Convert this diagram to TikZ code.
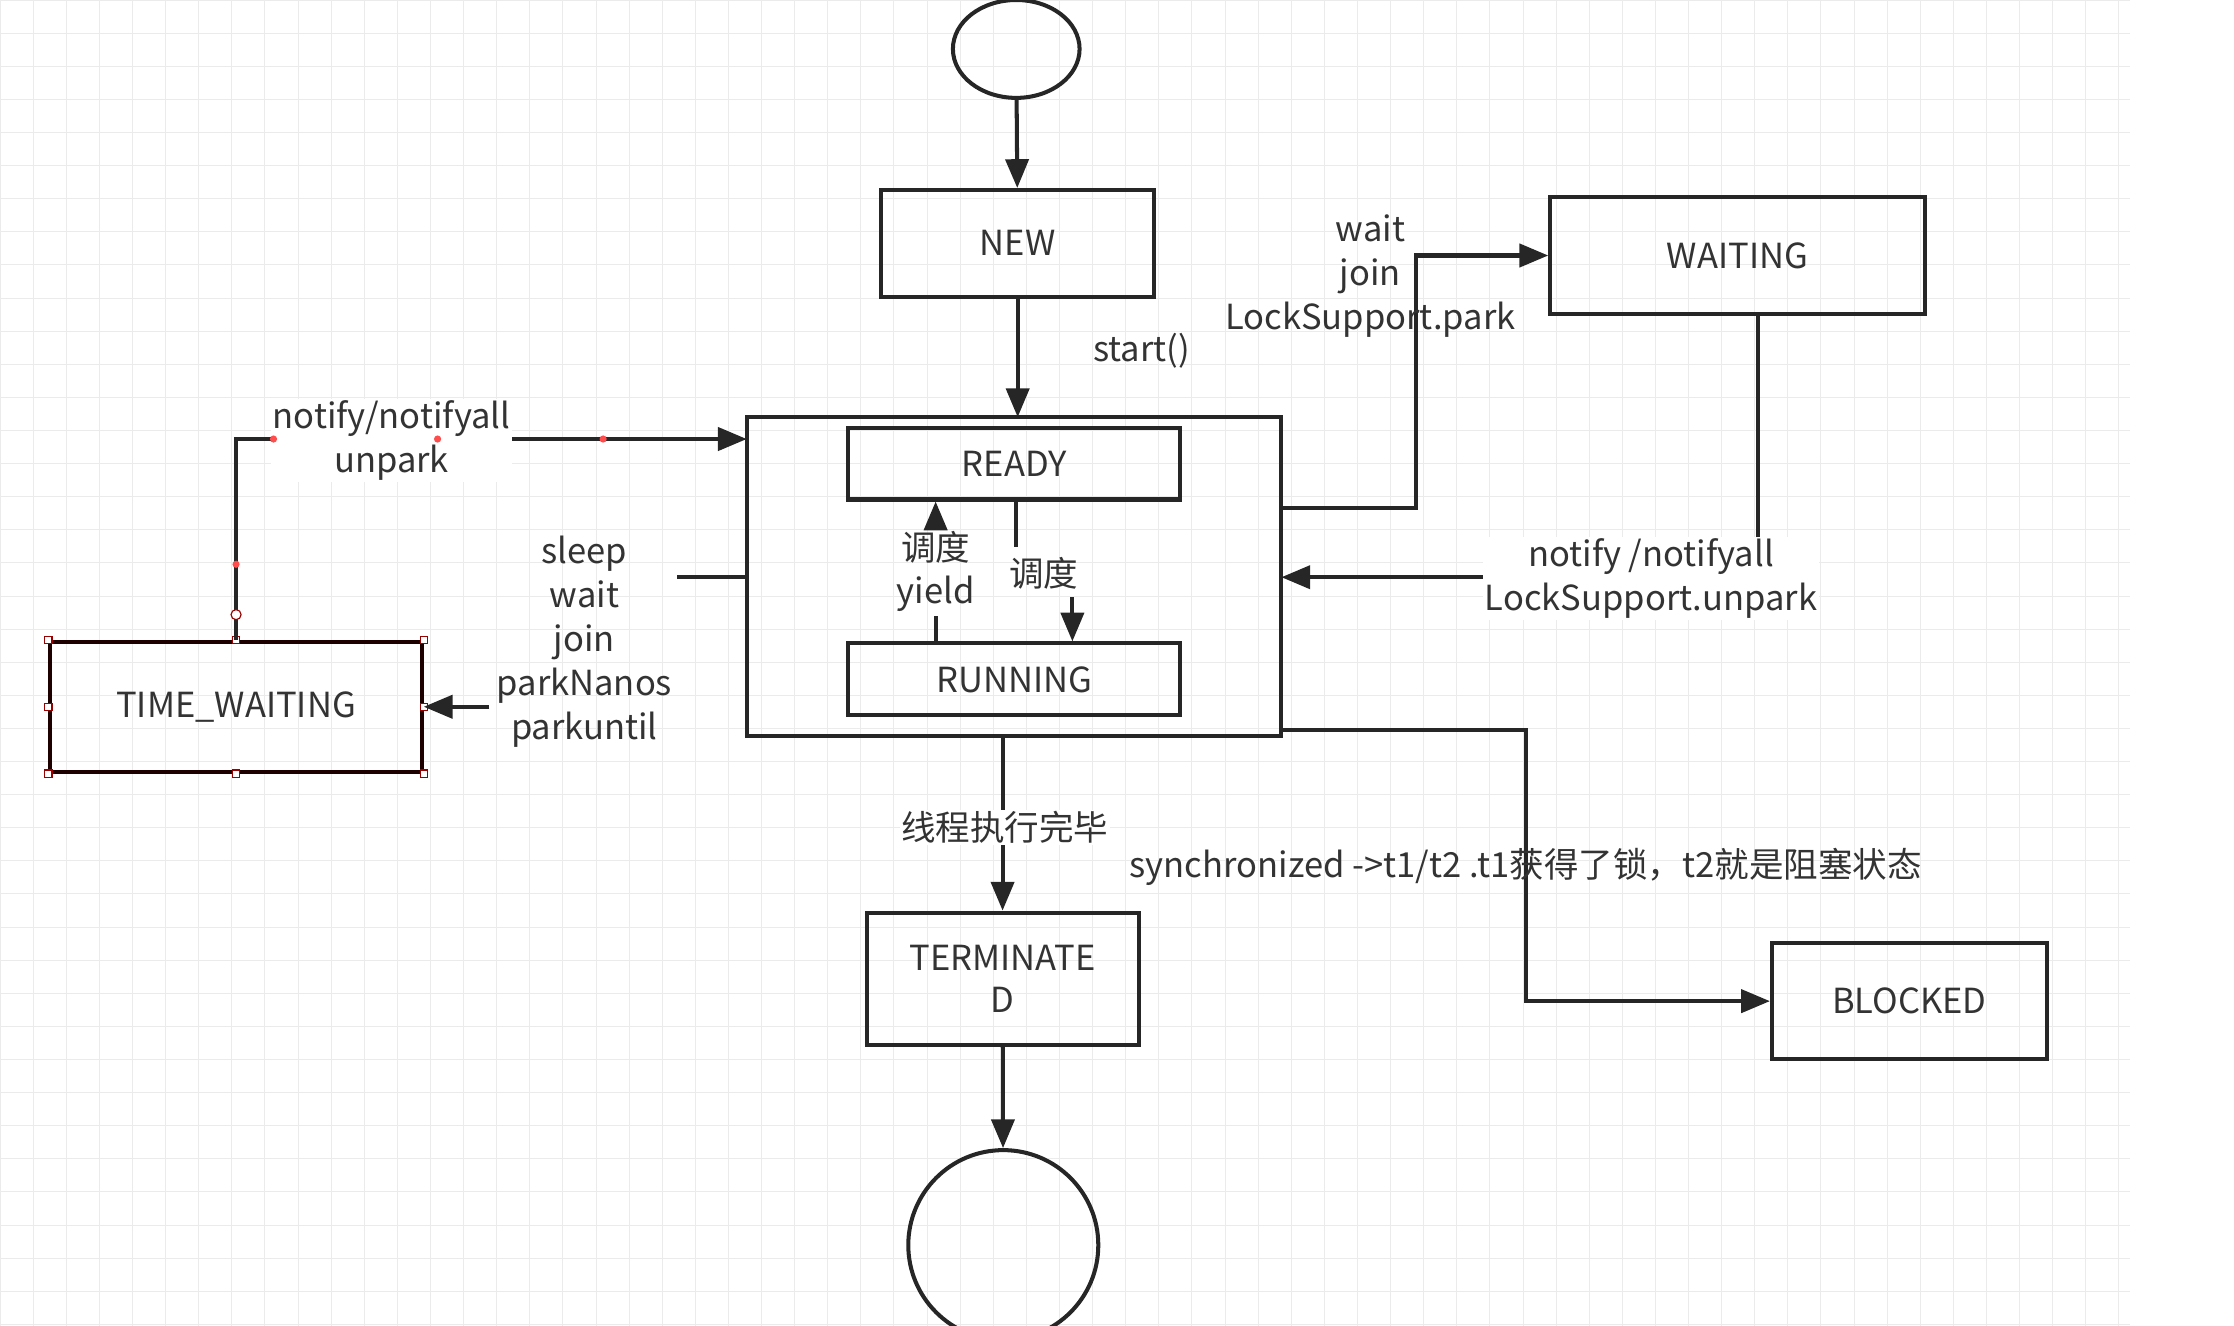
\documentclass[tikz,border=0pt]{standalone}
\usepackage{fontspec}
\setmainfont{Noto Sans CJK SC}
\usetikzlibrary{arrows.meta,shapes.geometric}
\tikzset{
  st/.style={draw=black!85,line width=2.8pt,minimum width=#1,inner sep=0pt,font=\fontsize{24}{29}\selectfont,text=black!80},
  st/.default=190pt,
  lbl/.style={font=\fontsize{24}{30.5}\selectfont,text=black!80,align=center,inner sep=1pt},
  ar/.style={line width=2.8pt,draw=black!85,-{Triangle[length=20pt,width=16pt]}},
  ln/.style={line width=2.8pt,draw=black!85},
  hdl/.style={draw=red!60!black,fill=white,line width=0.8pt,inner sep=0pt,minimum size=5pt}
}
\begin{document}
\begin{tikzpicture}[x=1pt,y=-1pt]
    \useasboundingbox (0,0) rectangle (1552,921);
    % grid
    \foreach \x in {0,23,...,1480} \draw [black!8,line width=0.6pt] (\x,0) -- (\x,921);
    \foreach \y in {0,23,...,921} \draw [black!8,line width=0.6pt] (0,\y) -- (1480,\y);
    % states
    \node [draw=black!85,line width=2.8pt,ellipse,minimum width=88pt,minimum height=68pt] (start) at (706,34) {};
    \node [st=190pt,minimum height=74pt] (new) at (707,169) {NEW};
    \draw [ln] (519,290) rectangle (890,511);
    \node [inner sep=0pt,minimum width=371pt,minimum height=221pt] (thread) at (704.5,400.5) {};
    \node [st=231pt,minimum height=50pt] (ready) at (704.5,322) {READY};
    \node [st=231pt,minimum height=50pt] (running) at (704.5,472) {RUNNING};
    \node [st=260pt,minimum height=81pt] (waiting) at (1207,177.5) {WAITING};
    \node [st=258pt,minimum height=90pt,draw=black!70!red!40!black] (timed) at (164,491) {TIME\_WAITING};
    \node [st=189pt,minimum height=92pt,align=center] (term) at (696.5,680) {TERMINATE\\D};
    \node [st=191pt,minimum height=81pt] (blocked) at (1326.5,695.5) {BLOCKED};
    \node [draw=black!85,line width=2.8pt,circle,minimum size=132pt] (end) at (697,865) {};
    % selection handles
    \foreach \p in {north west,north,north east,west,east,south west,south,south east}
        \node [hdl] at (timed.\p) {};
    % transitions
    \draw [ar] (start) -- (new);
    \draw [ar] (new) -- (thread.north -| new);
    \node [lbl] (lstart) at (793,244) {start()};
    \coordinate (w1) at (984,353);
    \draw [ar] (thread.east |- w1) -- (w1) |- (waiting.west);
    \node [lbl] (lwait) at (952,192) {wait\\join\\LockSupport.park};
    \coordinate (w2) at (1221,401);
    \draw [ar] (waiting.south -| w2) -- (w2) -- (thread.east |- w2);
    \node [lbl,fill=white] (lnotify) at (1147,402) {notify /notifyall\\LockSupport.unpark};
    \coordinate (t1) at (470,401);
    \draw [ln] (thread.west |- t1) -- (t1);
    \coordinate (t2) at (340,491);
    \draw [ar] (t2) -- (timed.east);
    \node [lbl] (lsleep) at (406,446) {sleep\\wait\\join\\parkNanos\\parkuntil};
    \coordinate (t3) at (164,305);
    \draw [ar] (timed.north) -- (t3) -- (thread.west |- t3);
    \node [lbl,fill=white] (lunpark) at (272,306) {notify/notifyall\\unpark};
    \foreach \p in {(164,392),(190,305),(304,305),(419,305)}
        \fill [red!70] \p circle (2.5pt);
    \node [hdl,circle,minimum size=7pt] at (164,427) {};
    % scheduling
    \coordinate (r1) at (706,380);
    \draw [ln] (ready.south -| r1) -- (r1);
    \coordinate (r2) at (745,415);
    \draw [ar] (r2) -- (running.north -| r2);
    \node [lbl] (lsched) at (725,398) {调度};
    \coordinate (r3) at (650,428);
    \draw [ln] (running.north -| r3) -- (r3);
    \coordinate (r4) at (650,366);
    \draw [ar] (r4) -- (ready.south -| r4);
    \node [lbl] (lyield) at (650,397) {调度\\yield};
    % end
    \draw [ar] (thread.south -| term) -- (term);
    \node [lbl,fill=white] (ldone) at (698,575) {线程执行完毕};
    \draw [ar] (term) -- (end);
    \coordinate (b1) at (1060,507);
    \draw [ar] (thread.east |- b1) -- (b1) |- (blocked.west);
    \node [lbl] (lsync) at (1060,602) {synchronized ->t1/t2 .t1获得了锁，t2就是阻塞状态};
\end{tikzpicture}
\end{document}
